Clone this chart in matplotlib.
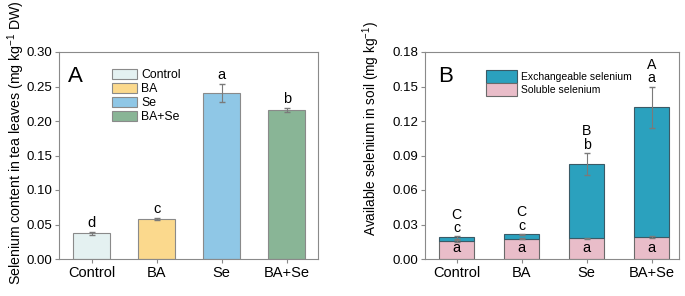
import matplotlib
matplotlib.use("Agg")
import matplotlib.pyplot as plt
from matplotlib.patches import Patch
import numpy as np

plt.rcParams['font.family'] = ['Liberation Sans', 'DejaVu Sans']
plt.rcParams['mathtext.default'] = 'regular'

groups = ['Control', 'BA', 'Se', 'BA+Se']

# panel A: selenium in tea leaves
leaf_se = [0.037, 0.058, 0.241, 0.216]
leaf_err = [0.002, 0.001, 0.013, 0.003]
leaf_letters = ['d', 'c', 'a', 'b']
leaf_colors = ['#E4F1F1', '#FBD98D', '#8FC7E6', '#89B596']

# panel B: available selenium in soil
soluble = [0.0156, 0.0177, 0.0180, 0.0190]
soluble_err = [0.0005, 0.0005, 0.0005, 0.0008]
exchangeable = [0.0032, 0.0037, 0.0648, 0.1130]
total_err = [0.0010, 0.0005, 0.0095, 0.0180]
soluble_letters = ['a', 'a', 'a', 'a']
exch_letters = ['c', 'c', 'b', 'a']
total_letters = ['C', 'C', 'B', 'A']

edge = '#8a8a8a'
errc = '#7a7a7a'

fig = plt.figure(figsize=(6.85, 2.96), dpi=100)
axA = fig.add_axes([59/685, 37/296, 259/685, 207/296])
axB = fig.add_axes([425/685, 37/296, 254/685, 207/296])

x = np.arange(len(groups))

# ---- A
axA.bar(x, leaf_se, width=0.57, color=leaf_colors, edgecolor=edge, linewidth=0.8)
axA.errorbar(x, leaf_se, yerr=leaf_err, fmt='none', ecolor=errc, elinewidth=0.8, capsize=2)
for xi, v, e, t in zip(x, leaf_se, leaf_err, leaf_letters):
    axA.text(xi, v + e + 0.003, t, ha='center', va='bottom', fontsize=10.5)
axA.set_xlim(-0.5, 3.48)
axA.set_ylim(0, 0.30)
axA.set_yticks(np.arange(0, 0.31, 0.05))
axA.set_yticklabels(['%.2f' % v for v in np.arange(0, 0.31, 0.05)])
axA.set_ylabel('Selenium content in tea leaves (mg kg$^{-1}$ DW)', fontsize=10.2)
axA.yaxis.set_label_coords(-0.124, 0.56)
axA.text(0.035, 0.93, 'A', transform=axA.transAxes, fontsize=16, va='top')
handles = [Patch(facecolor=c, edgecolor=edge, linewidth=0.8) for c in leaf_colors]
axA.legend(handles, groups, loc='upper left', bbox_to_anchor=(0.17, 0.96), frameon=False,
           fontsize=8.8, handlelength=2.1, handleheight=0.9, labelspacing=0.15,
           handletextpad=0.3, borderpad=0.2)

# ---- B
axB.bar(x, soluble, width=0.54, color='#E9BDC9', edgecolor='#6a6a6a', linewidth=0.8,
        label='Soluble selenium')
axB.bar(x, exchangeable, width=0.54, bottom=soluble, color='#2BA1BE', edgecolor='#3a5a66',
        linewidth=0.8, label='Exchangeable selenium')
tot = np.array(soluble) + np.array(exchangeable)
axB.errorbar(x, soluble, yerr=soluble_err, fmt='none', ecolor=errc, elinewidth=0.8, capsize=2)
axB.errorbar(x, tot, yerr=total_err, fmt='none', ecolor=errc, elinewidth=0.8, capsize=2)
for i in range(len(groups)):
    axB.text(x[i], 0.0035, soluble_letters[i], ha='center', va='bottom', fontsize=10.5)
    top = tot[i] + total_err[i] + 0.0010
    axB.text(x[i], top, exch_letters[i], ha='center', va='bottom', fontsize=10.2)
    axB.text(x[i], top + 0.0118, total_letters[i], ha='center', va='bottom', fontsize=10.2)
axB.set_xlim(-0.49, 3.42)
axB.set_ylim(0, 0.18)
axB.set_yticks(np.arange(0, 0.181, 0.03))
axB.set_yticklabels(['%.2f' % v for v in np.arange(0, 0.181, 0.03)])
axB.set_ylabel('Available selenium in soil (mg kg$^{-1}$)', fontsize=9.8)
axB.yaxis.set_label_coords(-0.169, 0.628)
axB.text(0.05, 0.93, 'B', transform=axB.transAxes, fontsize=16, va='top')
h, l = axB.get_legend_handles_labels()
axB.legend(h[::-1], l[::-1], loc='upper left', bbox_to_anchor=(0.21, 0.95), frameon=False,
           fontsize=7.5, handlelength=3.0, handleheight=1.6, labelspacing=0.0,
           handletextpad=0.4, borderpad=0.2)

for ax in (axA, axB):
    ax.set_xticks(x)
    ax.set_xticklabels(groups, fontsize=10.5)
    ax.tick_params(axis='y', labelsize=9.5, direction='out', length=3, color=edge, pad=2)
    ax.tick_params(axis='x', direction='out', length=3, color=edge, pad=2)
    for s in ax.spines.values():
        s.set_color(edge)
        s.set_linewidth(0.8)

fig.savefig('out.png', dpi=100)
